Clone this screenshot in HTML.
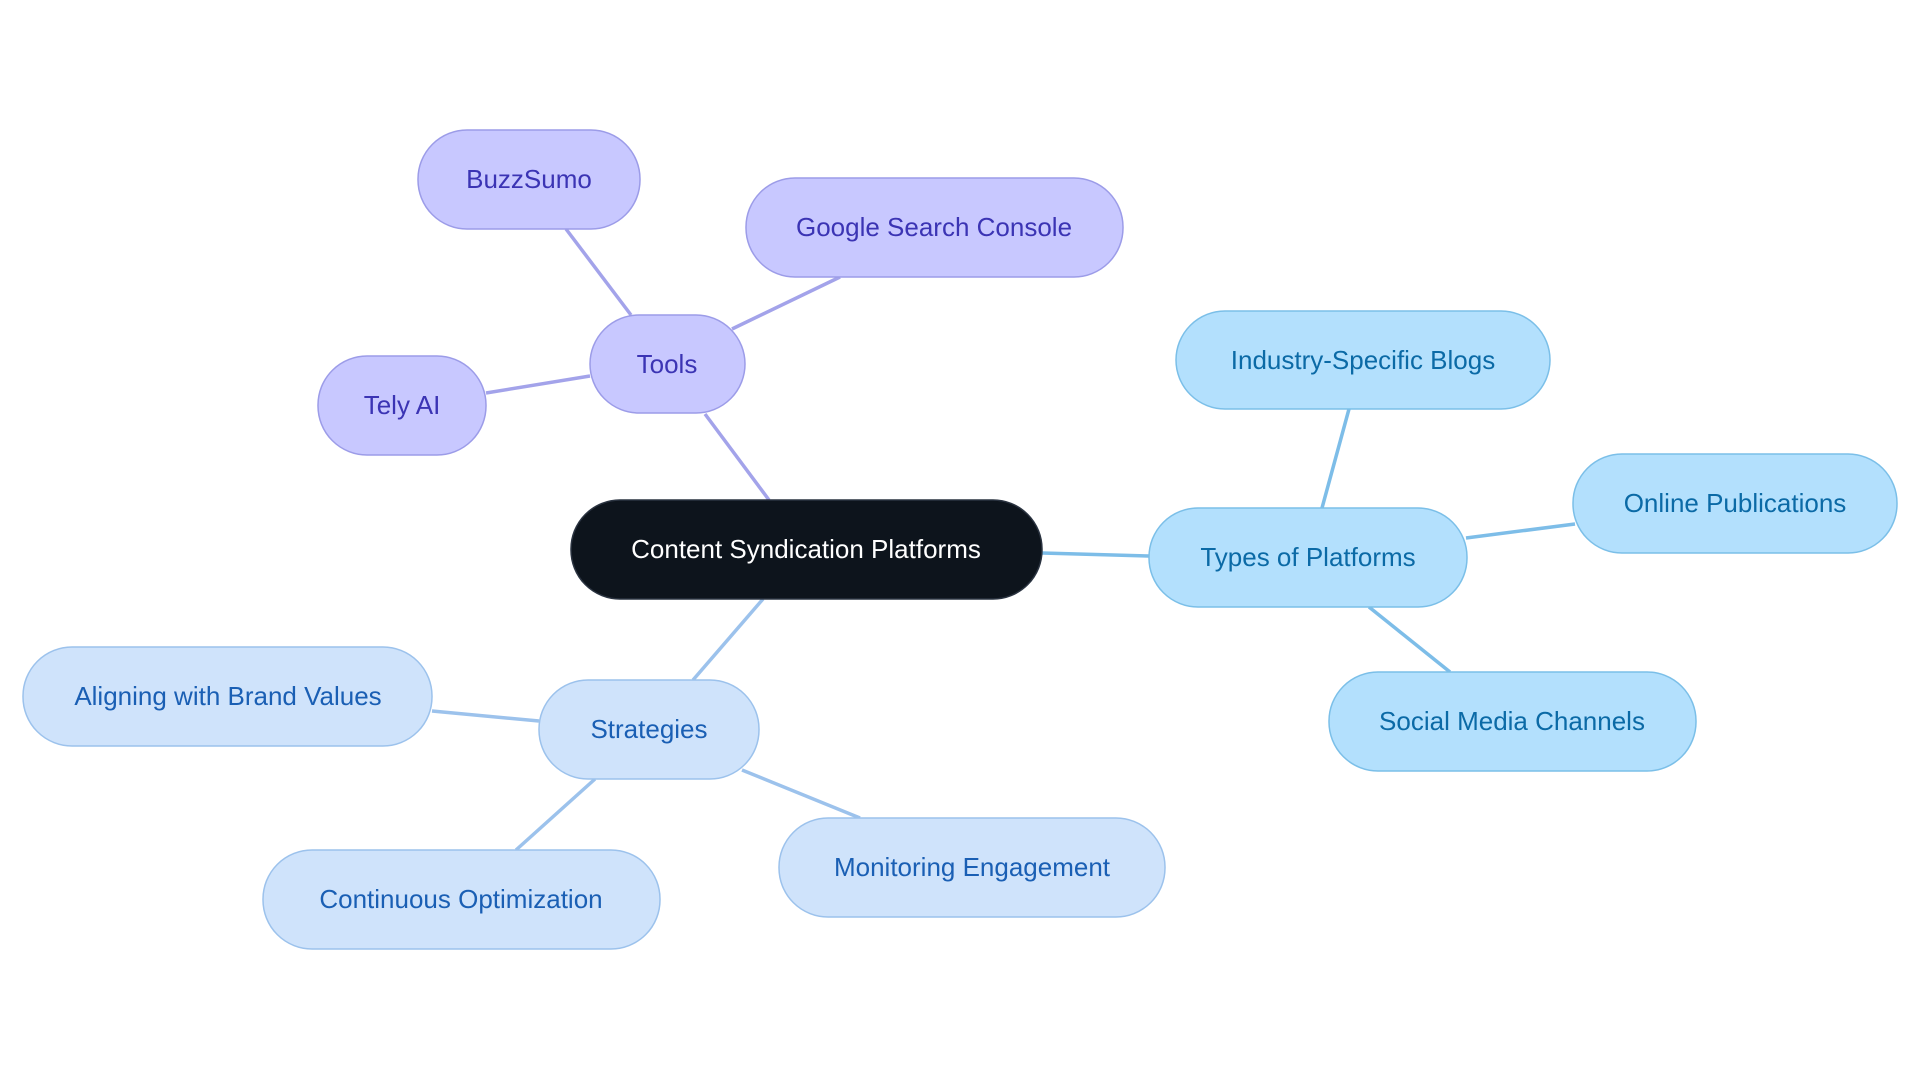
<!DOCTYPE html>
<html><head><meta charset="utf-8"><style>
html,body{margin:0;padding:0;background:#fff;width:1920px;height:1083px;overflow:hidden}
</style></head><body>
<svg width="1920" height="1083" viewBox="0 0 1920 1083" xmlns="http://www.w3.org/2000/svg" font-family="Liberation Sans, sans-serif" font-size="26">
<g stroke-width="3.5" fill="none">
<line x1="769" y1="500" x2="705" y2="414" stroke="#a3a3ea"/>
<line x1="631" y1="315" x2="566" y2="229" stroke="#a3a3ea"/>
<line x1="732" y1="329" x2="840" y2="277" stroke="#a3a3ea"/>
<line x1="590" y1="376" x2="486" y2="393" stroke="#a3a3ea"/>
<line x1="1042" y1="553" x2="1149" y2="556" stroke="#7dbde8"/>
<line x1="1322" y1="508" x2="1349" y2="409" stroke="#7dbde8"/>
<line x1="1466" y1="538" x2="1575" y2="524" stroke="#7dbde8"/>
<line x1="1369" y1="607" x2="1450" y2="672" stroke="#7dbde8"/>
<line x1="763" y1="599" x2="693" y2="680" stroke="#9cc2ec"/>
<line x1="539" y1="721" x2="432" y2="711" stroke="#9cc2ec"/>
<line x1="595" y1="779" x2="516" y2="850" stroke="#9cc2ec"/>
<line x1="742" y1="770" x2="860" y2="818" stroke="#9cc2ec"/>
</g>
<g text-anchor="middle" dominant-baseline="central">
<rect x="571" y="500" width="471" height="99" rx="49" fill="#0d141c" stroke="#2a3340" stroke-width="1.5"/>
<text x="806" y="549" fill="#fff">Content Syndication Platforms</text>

<g fill="#c8c8ff" stroke="#9c9ce8" stroke-width="1.5">
<rect x="590" y="315" width="155" height="98" rx="49"/>
<rect x="418" y="130" width="222" height="99" rx="49"/>
<rect x="746" y="178" width="377" height="99" rx="49"/>
<rect x="318" y="356" width="168" height="99" rx="49"/>
</g>
<g fill="#3b34b4">
<text x="667" y="364">Tools</text>
<text x="529" y="179">BuzzSumo</text>
<text x="934" y="227">Google Search Console</text>
<text x="402" y="405">Tely AI</text>
</g>

<g fill="#b3e0fd" stroke="#7bbfe8" stroke-width="1.5">
<rect x="1149" y="508" width="318" height="99" rx="49"/>
<rect x="1176" y="311" width="374" height="98" rx="49"/>
<rect x="1573" y="454" width="324" height="99" rx="49"/>
<rect x="1329" y="672" width="367" height="99" rx="49"/>
</g>
<g fill="#0b6aa6">
<text x="1308" y="557">Types of Platforms</text>
<text x="1363" y="360">Industry-Specific Blogs</text>
<text x="1735" y="503">Online Publications</text>
<text x="1512" y="721">Social Media Channels</text>
</g>

<g fill="#cfe3fb" stroke="#9cc2ec" stroke-width="1.5">
<rect x="539" y="680" width="220" height="99" rx="49"/>
<rect x="23" y="647" width="409" height="99" rx="49"/>
<rect x="263" y="850" width="397" height="99" rx="49"/>
<rect x="779" y="818" width="386" height="99" rx="49"/>
</g>
<g fill="#1a5fb4">
<text x="649" y="729">Strategies</text>
<text x="228" y="696">Aligning with Brand Values</text>
<text x="461" y="899">Continuous Optimization</text>
<text x="972" y="867">Monitoring Engagement</text>
</g>
</g>
</svg>
</body></html>
